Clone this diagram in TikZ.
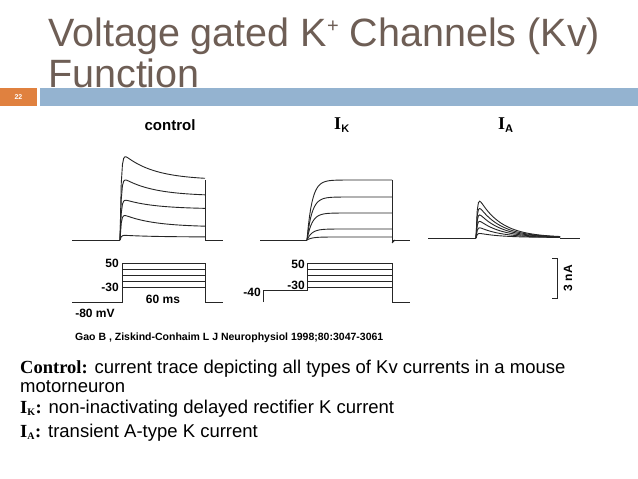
\documentclass[tikz,border=0pt]{standalone}
\usepackage{fontspec}
\setmainfont{Liberation Sans}
\newfontfamily\serifb{Liberation Serif}
\definecolor{titlec}{HTML}{6E5E55}
\definecolor{barblue}{HTML}{94B3D0}
\definecolor{orangeb}{HTML}{E0813F}
\begin{document}
\begin{tikzpicture}[x=1pt,y=-1pt,
  trace/.style={line width=0.9pt,black!85},
  lbl/.style={inner sep=0pt,font=\fontsize{12}{14}\selectfont\bfseries},
  body/.style={anchor=base west,inner sep=0pt,font=\fontsize{18.5}{21}\selectfont}]
\useasboundingbox (0,0) rectangle (638,479);
\fill[white] (0,0) rectangle (638,479);
% title
\node[anchor=base west,inner sep=0pt,text=titlec,font=\fontsize{39.5}{44}\selectfont] (t1) at (48,46) {Voltage gated K\raisebox{14pt}{\fontsize{20}{22}\selectfont +} Channels (Kv)};
\node[anchor=base west,inner sep=0pt,text=titlec,font=\fontsize{39.5}{44}\selectfont] (t2) at (48,87) {Function};
\fill[orangeb] (0,88) rectangle (37,106);
\node[text=white,font=\fontsize{7}{8}\selectfont\bfseries] (num) at (18.5,97) {22};
\fill[barblue] (40,88) rectangle (638,106);
% headers
\node[font=\fontsize{15}{17}\selectfont\bfseries] (h1) at (170,125) {control};
\node[font=\fontsize{18}{20}\selectfont\bfseries\serifb] (h2) at (342,125) {I\textsubscript{\sffamily\fontsize{11}{12}\selectfont K}};
\node[font=\fontsize{18}{20}\selectfont\bfseries\serifb] (h3) at (506,125) {I\textsubscript{\sffamily\fontsize{11}{12}\selectfont A}};
% control traces
\draw[trace] (72,240) -- (120,240);
\draw[trace] (205,240) -- (223,240);
\foreach \P/\E in {89/60, 64/44, 42/31, 27/13, 5/3}{
  \draw[trace] plot[domain=0:85,samples=70] ({120+\x},{240-(\E+(\P-\E)*exp(-\x/30))*(1-exp(-\x/1.2))});
  \draw[trace] (205,{240-\E}) -- (205,240);
}
% IK traces
\draw[trace] (260,240) -- (307,240);
\draw[trace] (392,240) -- (410,240);
\draw[trace] (392,243) -- (395,240);
\foreach \L in {60,43,27,11,3}{
  \draw[trace] plot[domain=0:85,samples=70] ({307+\x},{240-\L*(1-exp(-\x/5))});
  \draw[trace] (392,{240-\L}) -- (392,242);
}
% IA traces
\draw[trace] (428,238) -- (476,238);
\draw[trace] (560,238) -- (580,238);
\foreach \P in {45,36,28,20,12,5}{
  \draw[trace] plot[domain=0:84,samples=70] ({476+\x},{238-(\P*exp(-\x/22)+0.5)*(1-exp(-\x/1.2))});
}
% control voltage
\draw[trace] (72,302) -- (122,302) -- (122,263) -- (205,263) -- (205,302) -- (223,302);
\foreach \y in {269,275,281,287}{\draw[trace] (122,\y) -- (205,\y);}
\node[lbl,anchor=east] (v50) at (119,263) {50};
\node[lbl,anchor=east] (vm30) at (119,287) {-30};
\node[lbl] (ms) at (163,299) {60 ms};
\node[lbl] (mv) at (95,313) {-80 mV};
% IK voltage
\draw[trace] (263,302) -- (263,290) -- (307,290) -- (307,263) -- (392,263) -- (392,302) -- (410,302);
\foreach \y in {269,275,281,287}{\draw[trace] (307,\y) -- (392,\y);}
\node[lbl,anchor=east] (k50) at (305,264) {50};
\node[lbl,anchor=east] (km30) at (305,285) {-30};
\node[lbl,anchor=east] (km40) at (261,292) {-40};
% scale bar
\draw[trace] (552,258) -- (557,258) -- (557,298) -- (552,298);
\node[lbl,rotate=90] (na) at (568,278) {3 nA};
% citation
\node[anchor=base west,inner sep=0pt,font=\fontsize{10.5}{12}\selectfont\bfseries] (cit) at (75,340) {Gao B , Ziskind-Conhaim L J Neurophysiol 1998;80:3047-3061};
% body
\node[body] (b1) at (20,373) {{\serifb\bfseries Control:} current trace depicting all types of Kv currents in a mouse};
\node[body] (b2) at (20,392) {motorneuron};
\node[body] (b3) at (20,413) {{\serifb\bfseries I\textsubscript{\fontsize{10}{11}\selectfont K}:} non-inactivating delayed rectifier K current};
\node[body] (b4) at (20,437) {{\serifb\bfseries I\textsubscript{\fontsize{10}{11}\selectfont A}:} transient A-type K current};
\end{tikzpicture}
\end{document}
